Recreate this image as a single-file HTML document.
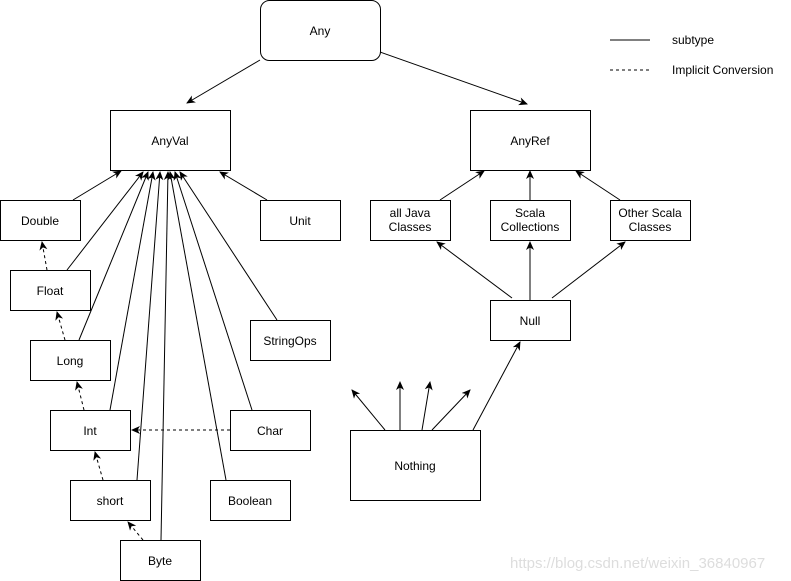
<!DOCTYPE html>
<html><head><style>body{margin:0;background:#fff}svg{display:block}text{font-family:"Liberation Sans",sans-serif;font-size:12px;fill:#000}</style></head><body>
<svg width="791" height="581" viewBox="0 0 791 581">
<defs><marker id="a" markerWidth="10" markerHeight="10" refX="8" refY="4" orient="auto" markerUnits="userSpaceOnUse"><path d="M0,0 L9,4 L0,8 L2.5,4 z" fill="#000"/></marker></defs>
<g fill="#fff" stroke="#000" stroke-width="1">
<rect x="260.5" y="0.5" width="120" height="60" rx="9"/>
<rect x="110.5" y="110.5" width="120" height="60"/>
<rect x="470.5" y="110.5" width="120" height="60"/>
<rect x="0.5" y="200.5" width="80" height="40"/>
<rect x="260.5" y="200.5" width="80" height="40"/>
<rect x="10.5" y="270.5" width="80" height="40"/>
<rect x="250.5" y="320.5" width="80" height="40"/>
<rect x="30.5" y="340.5" width="80" height="40"/>
<rect x="50.5" y="410.5" width="80" height="40"/>
<rect x="230.5" y="410.5" width="80" height="40"/>
<rect x="70.5" y="480.5" width="80" height="40"/>
<rect x="210.5" y="480.5" width="80" height="40"/>
<rect x="120.5" y="540.5" width="80" height="40"/>
<rect x="370.5" y="200.5" width="80" height="40"/>
<rect x="490.5" y="200.5" width="80" height="40"/>
<rect x="610.5" y="200.5" width="80" height="40"/>
<rect x="490.5" y="300.5" width="80" height="40"/>
<rect x="350.5" y="430.5" width="130" height="70"/>
</g>
<g stroke="#000" stroke-width="1" marker-end="url(#a)" fill="none">
<line x1="260" y1="60" x2="187" y2="103"/>
<line x1="380" y1="52" x2="527" y2="104"/>
<line x1="73" y1="200" x2="121" y2="171"/>
<line x1="67" y1="270" x2="143" y2="172"/>
<line x1="79" y1="340" x2="148" y2="172"/>
<line x1="110" y1="410" x2="153" y2="172"/>
<line x1="137" y1="480" x2="160" y2="172"/>
<line x1="161" y1="540" x2="168" y2="172"/>
<line x1="226" y1="480" x2="170" y2="172"/>
<line x1="252" y1="410" x2="175" y2="172"/>
<line x1="277" y1="320" x2="180" y2="172"/>
<line x1="267" y1="200" x2="220" y2="172"/>
<line x1="440" y1="200" x2="484" y2="171"/>
<line x1="530" y1="200" x2="530" y2="171"/>
<line x1="620" y1="200" x2="576" y2="171"/>
<line x1="512" y1="298" x2="437" y2="242"/>
<line x1="530" y1="300" x2="530" y2="242"/>
<line x1="552" y1="298" x2="625" y2="242"/>
<line x1="473" y1="430" x2="520" y2="342"/>
<line x1="385" y1="430" x2="352" y2="390"/>
<line x1="400" y1="430" x2="400" y2="382"/>
<line x1="422" y1="430" x2="430" y2="382"/>
<line x1="432" y1="430" x2="470" y2="390"/>
</g>
<g stroke="#000" stroke-width="1" stroke-dasharray="3,3" marker-end="url(#a)" fill="none">
<line x1="47" y1="270" x2="42" y2="242"/>
<line x1="65" y1="340" x2="57" y2="312"/>
<line x1="84" y1="410" x2="77" y2="382"/>
<line x1="103" y1="480" x2="95" y2="452"/>
<line x1="143" y1="540" x2="128" y2="522"/>
<line x1="230" y1="430" x2="132" y2="430"/>
</g>
<line x1="610" y1="40" x2="650" y2="40" stroke="#000"/>
<line x1="610" y1="70" x2="650" y2="70" stroke="#000" stroke-dasharray="3,3"/>
<g text-anchor="middle">
<text x="320" y="35">Any</text>
<text x="170" y="145">AnyVal</text>
<text x="530" y="145">AnyRef</text>
<text x="40" y="225">Double</text>
<text x="300" y="225">Unit</text>
<text x="50" y="295">Float</text>
<text x="290" y="345">StringOps</text>
<text x="70" y="365">Long</text>
<text x="90" y="435">Int</text>
<text x="270" y="435">Char</text>
<text x="110" y="505">short</text>
<text x="250" y="505">Boolean</text>
<text x="160" y="565">Byte</text>
<text x="410" y="217">all Java</text><text x="410" y="231">Classes</text>
<text x="530" y="217">Scala</text><text x="530" y="231">Collections</text>
<text x="650" y="217">Other Scala</text><text x="650" y="231">Classes</text>
<text x="530" y="325">Null</text>
<text x="415" y="470">Nothing</text>
</g>
<text x="672" y="44" style="font-size:12px">subtype</text>
<text x="672" y="74" style="font-size:12px">Implicit Conversion</text>
<text x="510" y="568" style="font-size:15px;fill:#ddd">https://blog.csdn.net/weixin_36840967</text>
</svg></body></html>
